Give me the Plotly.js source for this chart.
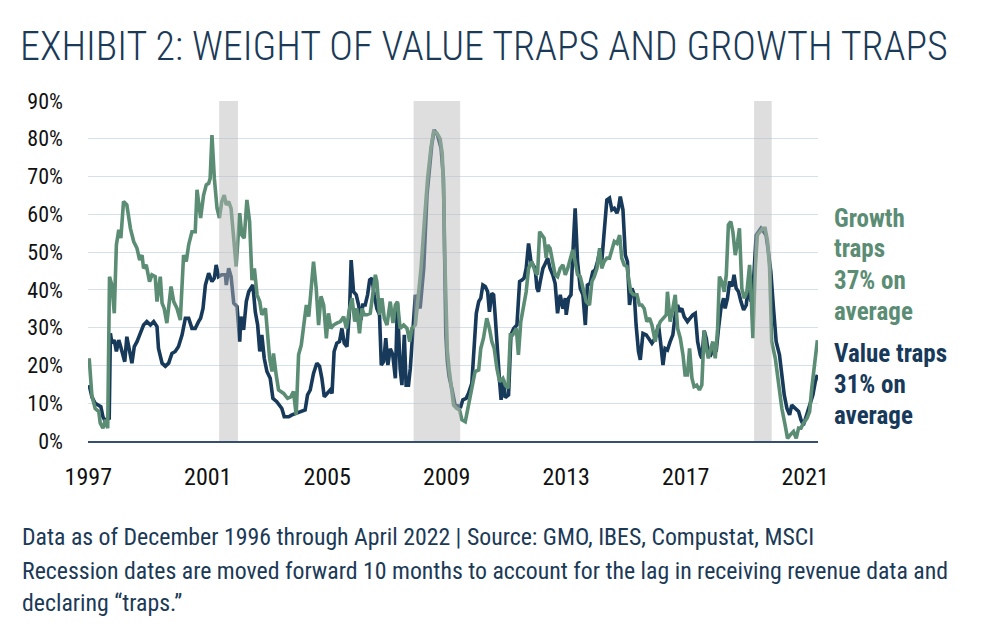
<!DOCTYPE html>
<html>
<head>
<meta charset="utf-8">
<script src="https://cdn.plot.ly/plotly-3.0.1.min.js"></script>
<style>
html,body{margin:0;padding:0;background:#fff;}
#chart{width:988px;height:626px;}
</style>
</head>
<body>
<div id="chart"></div>
<script>
// Growth traps (share of portfolio, %), x in display years
const growthX = [1997.03,1997.12,1997.23,1997.35,1997.40,1997.49,1997.57,1997.65,1997.71,1997.79,1997.87,1997.94,1998.02,1998.09,1998.18,1998.29,1998.41,1998.52,1998.63,1998.72,1998.80,1998.85,1998.94,1999.05,1999.13,1999.24,1999.30,1999.41,1999.47,1999.54,1999.63,1999.69,1999.77,1999.86,1999.97,2000.08,2000.19,2000.28,2000.36,2000.47,2000.58,2000.64,2000.76,2000.86,2000.95,2001.03,2001.08,2001.14,2001.22,2001.31,2001.39,2001.47,2001.55,2001.62,2001.70,2001.78,2001.87,2001.95,2002.07,2002.14,2002.22,2002.31,2002.40,2002.48,2002.56,2002.65,2002.74,2002.81,2002.93,2002.98,2003.07,2003.15,2003.20,2003.29,2003.37,2003.54,2003.67,2003.78,2003.87,2003.96,2004.04,2004.13,2004.21,2004.30,2004.38,2004.45,2004.54,2004.63,2004.71,2004.79,2004.88,2004.97,2005.04,2005.12,2005.21,2005.32,2005.44,2005.55,2005.64,2005.75,2005.83,2005.92,2005.99,2006.08,2006.16,2006.24,2006.33,2006.44,2006.53,2006.61,2006.66,2006.75,2006.83,2006.91,2007.00,2007.11,2007.20,2007.28,2007.35,2007.44,2007.56,2007.67,2007.76,2007.83,2007.95,2008.02,2008.14,2008.25,2008.36,2008.47,2008.56,2008.67,2008.78,2008.85,2008.90,2008.93,2008.97,2009.02,2009.08,2009.15,2009.23,2009.34,2009.43,2009.51,2009.62,2009.73,2009.84,2009.95,2010.07,2010.14,2010.23,2010.34,2010.43,2010.51,2010.59,2010.68,2010.77,2010.88,2010.96,2011.05,2011.13,2011.21,2011.33,2011.40,2011.48,2011.57,2011.66,2011.74,2011.85,2011.96,2012.04,2012.11,2012.19,2012.26,2012.33,2012.38,2012.46,2012.55,2012.63,2012.71,2012.80,2012.89,2012.97,2013.05,2013.13,2013.22,2013.30,2013.38,2013.47,2013.56,2013.67,2013.78,2013.86,2013.94,2014.03,2014.12,2014.19,2014.27,2014.36,2014.45,2014.53,2014.61,2014.70,2014.79,2014.86,2014.94,2015.03,2015.09,2015.16,2015.25,2015.37,2015.45,2015.53,2015.61,2015.70,2015.79,2015.87,2015.98,2016.06,2016.15,2016.26,2016.35,2016.39,2016.48,2016.57,2016.65,2016.73,2016.82,2016.91,2016.98,2017.06,2017.13,2017.21,2017.28,2017.37,2017.46,2017.54,2017.62,2017.69,2017.76,2017.84,2017.91,2017.99,2018.07,2018.13,2018.21,2018.29,2018.36,2018.43,2018.51,2018.58,2018.66,2018.74,2018.80,2018.88,2018.96,2019.05,2019.14,2019.19,2019.25,2019.33,2019.40,2019.49,2019.58,2019.66,2019.74,2019.81,2019.88,2020.00,2020.11,2020.22,2020.33,2020.41,2020.50,2020.61,2020.70,2020.78,2020.86,2020.94,2021.06,2021.15,2021.22,2021.31,2021.41];
const growthY = [21.9,12.0,8.6,7.8,4.7,3.4,5.6,3.4,43.5,41.3,33.8,51.9,55.9,53.7,63.4,62.5,56.3,52.8,51.0,47.9,49.2,45.7,46.6,42.2,44.0,43.5,36.9,43.5,36.5,35.1,31.2,36.0,40.9,36.9,35.1,32.0,49.2,47.5,51.9,55.4,55.4,66.5,59.0,65.1,67.8,68.2,69.5,81.0,69.5,61.6,59.0,63.4,65.1,62.5,63.4,61.6,54.5,46.2,60.3,54.5,53.7,63.8,58.1,42.6,45.7,38.7,36.9,33.4,35.1,30.7,21.9,18.4,23.2,17.5,13.5,12.6,11.3,11.7,13.1,6.9,22.8,25.4,29.8,36.0,32.9,40.4,47.5,40.4,30.7,38.3,36.0,27.2,33.8,29.8,30.7,31.2,31.6,32.9,29.8,35.1,37.8,31.6,35.1,28.5,35.1,33.4,33.4,33.8,40.0,44.0,42.2,33.4,37.8,32.5,30.7,36.9,31.2,36.0,36.9,29.8,30.7,29.8,26.3,29.8,30.7,36.0,45.7,58.0,69.5,77.5,81.9,81.5,80.0,76.0,65.0,50.0,33.0,24.0,19.0,14.0,9.5,8.6,8.2,5.6,5.1,9.5,13.9,18.4,18.8,24.5,27.2,32.5,29.8,26.3,24.5,19.2,15.7,16.6,14.8,13.9,28.1,28.1,29.8,22.8,31.6,35.1,39.5,45.7,47.5,44.8,44.0,55.4,54.5,53.7,48.4,51.9,51.0,47.5,44.0,43.5,45.7,46.6,44.0,45.7,48.4,50.6,47.5,44.0,43.5,40.4,36.9,36.0,42.2,43.5,45.7,51.0,45.7,47.5,48.4,48.4,51.0,52.8,52.3,54.5,48.4,46.6,46.2,42.2,39.5,38.7,38.7,36.0,36.0,35.1,31.6,32.5,30.7,26.3,29.8,31.6,32.5,33.4,39.5,31.6,35.1,38.7,29.8,27.2,22.8,17.5,17.5,24.5,16.6,14.4,14.8,13.5,14.8,29.2,24.5,21.9,24.5,26.3,21.9,29.8,43.5,42.2,39.5,44.0,57.2,58.1,55.4,49.2,52.8,56.3,40.4,37.8,39.5,46.6,38.7,27.2,45.7,54.5,55.4,56.3,56.3,52.8,45.7,26.3,21.9,15.7,8.6,4.2,0.7,1.6,2.5,0.7,3.4,3.4,4.7,6.0,7.8,13.9,20.1,26.7];

// Value traps (share of portfolio, %)
const valueX = [1997.03,1997.12,1997.23,1997.35,1997.42,1997.49,1997.55,1997.70,1997.74,1997.79,1997.87,1997.94,1998.02,1998.07,1998.16,1998.22,1998.29,1998.38,1998.46,1998.54,1998.63,1998.74,1998.85,1998.96,1999.08,1999.19,1999.30,1999.35,1999.47,1999.58,1999.69,1999.80,1999.91,2000.02,2000.14,2000.25,2000.36,2000.47,2000.58,2000.69,2000.76,2000.84,2000.92,2001.03,2001.14,2001.22,2001.28,2001.36,2001.47,2001.59,2001.62,2001.70,2001.78,2001.87,2001.98,2002.07,2002.11,2002.20,2002.29,2002.37,2002.45,2002.51,2002.59,2002.67,2002.74,2002.81,2002.89,2002.98,2003.09,2003.18,2003.31,2003.48,2003.56,2003.71,2003.82,2003.98,2004.10,2004.26,2004.34,2004.43,2004.54,2004.65,2004.74,2004.82,2004.90,2004.99,2005.10,2005.16,2005.23,2005.32,2005.41,2005.49,2005.57,2005.66,2005.75,2005.80,2005.88,2005.97,2006.05,2006.13,2006.19,2006.27,2006.35,2006.42,2006.50,2006.57,2006.66,2006.75,2006.81,2006.89,2006.96,2007.03,2007.11,2007.19,2007.28,2007.35,2007.44,2007.50,2007.58,2007.64,2007.72,2007.78,2007.87,2007.95,2008.02,2008.11,2008.23,2008.34,2008.50,2008.58,2008.69,2008.81,2008.89,2008.93,2008.97,2009.02,2009.08,2009.17,2009.28,2009.47,2009.54,2009.65,2009.73,2009.84,2009.92,2009.99,2010.07,2010.14,2010.21,2010.29,2010.37,2010.43,2010.51,2010.57,2010.62,2010.70,2010.77,2010.82,2010.90,2010.96,2011.07,2011.15,2011.24,2011.35,2011.44,2011.52,2011.59,2011.66,2011.74,2011.82,2011.88,2011.96,2012.02,2012.07,2012.13,2012.22,2012.30,2012.38,2012.46,2012.55,2012.63,2012.71,2012.80,2012.89,2012.97,2013.00,2013.08,2013.16,2013.22,2013.30,2013.38,2013.47,2013.56,2013.64,2013.71,2013.80,2013.89,2013.97,2014.05,2014.14,2014.19,2014.27,2014.36,2014.45,2014.53,2014.61,2014.70,2014.75,2014.81,2014.90,2014.98,2015.05,2015.12,2015.20,2015.28,2015.34,2015.42,2015.48,2015.57,2015.68,2015.79,2015.87,2015.98,2016.09,2016.17,2016.24,2016.31,2016.39,2016.48,2016.57,2016.65,2016.73,2016.79,2016.87,2016.95,2017.06,2017.15,2017.24,2017.32,2017.40,2017.49,2017.54,2017.62,2017.69,2017.76,2017.84,2017.93,2018.02,2018.10,2018.18,2018.27,2018.32,2018.40,2018.47,2018.55,2018.62,2018.69,2018.77,2018.85,2018.94,2019.03,2019.10,2019.18,2019.27,2019.36,2019.44,2019.52,2019.61,2019.69,2019.77,2019.85,2019.94,2020.03,2020.14,2020.22,2020.30,2020.39,2020.48,2020.55,2020.67,2020.78,2020.86,2020.94,2021.03,2021.15,2021.26,2021.34,2021.41];
const valueY = [14.8,11.7,10.0,9.5,9.1,6.4,5.5,6.0,28.5,25.9,26.7,23.7,26.7,25.4,22.8,21.0,27.6,23.7,20.6,25.0,26.3,28.5,30.7,31.6,30.7,31.6,30.3,24.5,20.6,19.8,20.6,23.2,23.7,25.0,28.1,32.5,32.5,29.8,29.8,31.6,32.5,35.1,41.3,44.4,42.2,43.1,46.6,43.5,44.0,44.0,41.3,45.7,43.5,36.5,35.6,26.3,32.9,29.4,36.9,39.5,40.4,41.3,34.2,30.7,23.7,28.1,21.9,18.4,16.6,11.3,10.4,8.6,6.4,6.4,6.9,7.3,7.8,8.2,12.2,13.5,17.9,20.6,19.8,16.6,11.7,12.6,13.5,12.6,23.7,25.9,26.3,29.8,25.9,25.0,35.1,47.9,39.5,38.7,36.0,32.0,36.0,36.0,38.7,42.6,43.1,38.7,35.1,33.4,20.1,21.0,27.2,20.1,24.4,23.0,16.6,36.5,19.2,14.8,28.1,14.8,14.8,19.2,30.7,38.7,36.9,35.1,45.7,65.2,78.4,82.3,81.0,77.5,69.5,48.0,28.0,21.0,17.0,13.9,9.5,9.1,10.9,11.3,12.6,15.3,24.5,33.8,36.9,37.8,41.3,40.9,39.5,34.2,39.1,38.7,33.4,21.9,15.7,10.9,16.2,11.5,12.2,28.1,29.8,30.7,42.2,42.6,43.1,45.7,52.3,47.5,46.6,45.7,40.5,39.5,42.2,45.7,47.0,48.4,45.7,44.0,41.7,33.8,38.7,35.0,37.8,33.4,37.8,38.7,49.2,61.6,47.5,40.4,38.7,30.7,41.3,41.7,44.8,45.3,47.5,51.0,47.5,54.5,63.8,64.3,61.2,61.6,60.3,61.6,64.7,61.2,49.2,47.5,36.0,40.4,38.7,30.7,23.7,21.5,28.5,28.1,26.7,25.9,27.2,30.7,25.4,20.1,24.5,24.1,26.3,28.1,33.4,36.0,34.2,35.1,32.9,31.6,32.5,33.4,33.8,26.3,22.8,21.9,29.2,27.2,23.2,22.8,24.5,23.7,29.8,35.1,37.8,35.1,37.8,42.2,40.9,44.0,40.4,39.5,36.9,34.7,36.0,42.2,36.9,42.2,54.5,55.4,56.3,55.4,54.5,50.1,44.8,35.1,26.3,22.8,16.6,12.2,8.6,6.9,9.5,8.6,7.8,5.6,4.2,6.4,9.5,12.2,15.7,17.5];

// Recession bands (moved forward 10 months), display years
const recessionStart = [2001.38, 2007.89, 2019.29];
const recessionEnd   = [2002.01, 2009.45, 2019.88];

const yTickVals = [0,10,20,30,40,50,60,70,80,90];
const yTickText = ['0%','10%','20%','30%','40%','50%','60%','70%','80%','90%'];
const xTickVals = [1997,2001,2005,2009,2013,2017,2021];
const xTickText = ['1997','2001','2005','2009','2013','2017','2021'];

const growthLabel = ['Growth','traps','37% on','average'];
const valueLabel = ['Value traps','31% on','average'];
const footnotes = [
  'Data as of December 1996 through April 2022 | Source: GMO, IBES, Compustat, MSCI',
  'Recession dates are moved forward 10 months to account for the lag in receiving revenue data and',
  'declaring \u201ctraps.\u201d'
];

const NAVY = '#17395a';
const GREEN = '#5b8c74';
const TEXTNAVY = '#1b3a57';
const FONT = 'Roboto Condensed, Roboto, Arial, sans-serif';

const traces = [
  {x: valueX, y: valueY, type: 'scatter', mode: 'lines', name: 'Value traps',
   line: {color: NAVY, width: 3.6, shape: 'linear'}, cliponaxis: false, hoverinfo: 'skip'},
  {x: growthX, y: growthY, type: 'scatter', mode: 'lines', name: 'Growth traps',
   line: {color: GREEN, width: 3.6, shape: 'linear'}, cliponaxis: false, hoverinfo: 'skip'}
];

const shapes = recessionStart.map((s, i) => ({
  type: 'rect', xref: 'x', yref: 'paper', x0: s, x1: recessionEnd[i], y0: 0, y1: 1,
  fillcolor: 'rgba(185,185,185,0.47)', line: {width: 0}, layer: 'above'
}));

const annotations = [];
const gY = [0.653, 0.565, 0.471, 0.382];
growthLabel.forEach((t, i) => annotations.push({
  text: t, xref: 'paper', yref: 'paper', x: 1.0192, y: gY[i], xanchor: 'left', yanchor: 'middle',
  showarrow: false, font: {family: FONT, size: 25, color: GREEN, weight: 700}
}));
const vY = [0.256, 0.165, 0.076];
valueLabel.forEach((t, i) => annotations.push({
  text: t, xref: 'paper', yref: 'paper', x: 1.0192, y: vY[i], xanchor: 'left', yanchor: 'middle',
  showarrow: false, font: {family: FONT, size: 25, color: NAVY, weight: 700}
}));
const fY = [-0.282, -0.382, -0.476];
footnotes.forEach((t, i) => annotations.push({
  text: t, xref: 'paper', yref: 'paper', x: -0.0932, y: fY[i], xanchor: 'left', yanchor: 'middle',
  showarrow: false, font: {family: FONT, size: 23.8, color: TEXTNAVY}
}));

const layout = {
  width: 988, height: 626,
  margin: {l: 88, r: 170, t: 101, b: 185, pad: 0},
  paper_bgcolor: '#ffffff', plot_bgcolor: '#ffffff',
  showlegend: false,
  title: {
    text: 'EXHIBIT 2: WEIGHT OF VALUE TRAPS AND GROWTH TRAPS',
    xref: 'container', yref: 'container', x: 0.0203, xanchor: 'left', y: 0.926, yanchor: 'middle',
    font: {family: FONT, size: 40, color: TEXTNAVY, weight: 300}
  },
  xaxis: {
    range: [1996.99, 2021.43], tickmode: 'array', tickvals: xTickVals, ticktext: xTickText,
    showgrid: false, zeroline: false, showline: true, linecolor: '#34506b', linewidth: 2,
    ticks: '', ticklabelstandoff: 13,
    tickfont: {family: FONT, size: 24, color: '#111111'}
  },
  yaxis: {
    range: [0, 90], tickmode: 'array', tickvals: yTickVals, ticktext: yTickText,
    showgrid: true, gridcolor: '#d5e1ea', gridwidth: 1, zeroline: false, showline: false,
    ticks: '', ticklabelstandoff: 24,
    tickfont: {family: FONT, size: 22, color: '#111111'}
  },
  shapes: shapes,
  annotations: annotations
};

Plotly.newPlot('chart', traces, layout, {displayModeBar: false, staticPlot: true});
</script>
</body>
</html>
